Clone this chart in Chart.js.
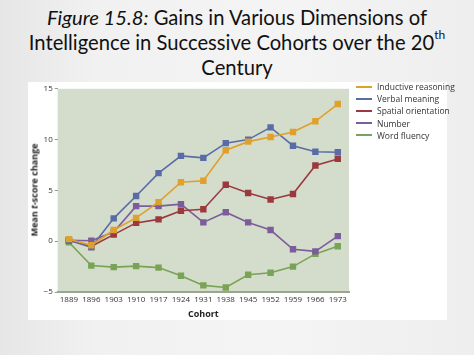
<!DOCTYPE html>
<html><head><meta charset="utf-8">
<script src="https://cdn.jsdelivr.net/npm/chart.js@4"></script>
<style>
html,body{margin:0;padding:0;}
body{width:474px;height:355px;overflow:hidden;position:relative;
 background:linear-gradient(90deg,#e6e6e6 0%,#f1f1f1 20%,#f4f4f4 60%,#eeeeee 100%);font-family:"Open Sans",sans-serif;}
#title{position:absolute;left:0;top:5px;width:474px;text-align:center;font-family:Lato,"Open Sans",sans-serif;font-size:20.2px;line-height:25px;color:#111;}
#title sup{font-size:12px;vertical-align:top;line-height:12px;position:relative;top:-1px;}
#panel{position:absolute;left:28px;top:82px;width:419px;height:238px;background:#fff;}
#wrap{position:absolute;left:28px;top:82px;width:419px;height:238px;}
#ytitle{position:absolute;left:34px;top:190px;transform:translate(-50%,-50%) rotate(-90deg);white-space:nowrap;font-size:9px;font-weight:bold;color:#222;}
#legend{position:absolute;left:356px;top:81px;font-size:8.5px;color:#333;}
#legend div{height:12.2px;line-height:12.2px;white-space:nowrap;}
#legend span.ln{display:inline-block;width:16px;height:2px;vertical-align:middle;margin-right:5px;position:relative;top:-1px;}
</style></head>
<body>
<div id="title"><i>Figure 15.8:</i> Gains in Various Dimensions of<br>Intelligence in Successive Cohorts over the 20<sup>th</sup><br>Century</div>
<div id="panel"></div>
<div id="wrap"><canvas id="c" width="419" height="238"></canvas></div>
<div id="ytitle">Mean <i>t</i>-score change</div>
<div id="legend"></div>
<script>
const cohorts = ["1889","1896","1903","1910","1917","1924","1931","1938","1945","1952","1959","1966","1973"];
const inductiveReasoning = [0.2,-0.4,1.1,2.3,3.85,5.8,5.95,8.95,9.8,10.25,10.75,11.8,13.5];
const verbalMeaning = [0.1,-0.6,2.25,4.45,6.7,8.4,8.2,9.65,10.0,11.2,9.4,8.8,8.75];
const spatialOrientation = [0.1,-0.5,0.65,1.8,2.15,3.0,3.15,5.55,4.75,4.1,4.65,7.45,8.1];
const numberAbility = [0.1,0.05,0.9,3.45,3.45,3.65,1.85,2.85,1.85,1.1,-0.8,-1.0,0.5];
const wordFluency = [-0.1,-2.4,-2.55,-2.45,-2.6,-3.4,-4.35,-4.55,-3.3,-3.1,-2.5,-1.25,-0.5];
const yTicks = [-5,0,5,10,15];
const seriesNames = ["Inductive reasoning","Verbal meaning","Spatial orientation","Number","Word fluency"];
const seriesData = [inductiveReasoning,verbalMeaning,spatialOrientation,numberAbility,wordFluency];
const seriesColors = ["#e0a02c","#5a6ca6","#9a3a3e","#7c5d9c","#79a355"];

const plotBg = {id:'plotBg',beforeDraw(chart){const a=chart.chartArea,ctx=chart.ctx;ctx.save();ctx.fillStyle='#d4dccb';ctx.fillRect(a.left,a.top,a.right-a.left,a.bottom-a.top);ctx.restore();}};

const chart = new Chart(document.getElementById('c'),{
 type:'line',
 data:{labels:cohorts,datasets:seriesNames.map((n,i)=>({label:n,data:seriesData[i],borderColor:seriesColors[i],backgroundColor:seriesColors[i],borderWidth:1.6,pointStyle:'rect',pointRadius:3.4,pointHoverRadius:3.4,tension:0,fill:false}))},
 options:{responsive:false,animation:false,events:[],
  layout:{padding:{left:0,right:98,top:4,bottom:0}},
  plugins:{legend:{display:false},tooltip:{enabled:false}},
  scales:{
   x:{offset:true,grid:{display:true,drawOnChartArea:false,drawTicks:false,color:'#9aa58e'},border:{display:true,color:'#9ba68f',width:2},
      ticks:{color:'#333',font:{family:'"Open Sans"',size:8},padding:3,maxRotation:0,autoSkip:false},
      title:{display:true,text:'Cohort',color:'#222',font:{family:'"Open Sans"',size:9,weight:'bold'},padding:{top:0,bottom:0}},
      afterFit(s){s.height=28;}},
   y:{min:-5,max:15,afterBuildTicks(s){s.ticks=yTicks.map(v=>({value:v}));},
      grid:{display:true,drawOnChartArea:false,drawTicks:true,tickLength:3,color:'#999'},border:{display:false},
      ticks:{color:'#333',font:{family:'"Open Sans"',size:8},padding:2,callback:v=>v<0?'\u2212'+Math.abs(v):v},
      afterFit(s){s.width=29.7;}}
  }},
 plugins:[plotBg]
});
const lg=document.getElementById('legend');
chart.data.datasets.forEach(d=>{const r=document.createElement('div');r.innerHTML='<span class="ln" style="background:'+d.borderColor+'"></span>'+d.label;lg.appendChild(r);});
</script>
</body></html>
